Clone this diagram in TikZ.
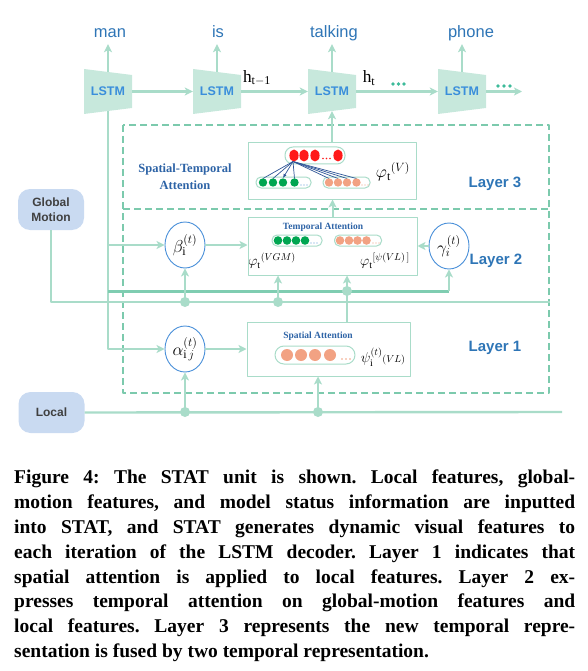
\documentclass[tikz,border=0pt]{standalone}
\usepackage{fontspec}
\setmainfont{Liberation Serif}
\setsansfont{Liberation Sans}
\usetikzlibrary{arrows.meta,shapes.geometric,positioning}
\definecolor{flowc}{HTML}{A9DCC9}
\definecolor{flowd}{HTML}{7FCDB1}
\definecolor{dashc}{HTML}{7CCAAD}
\definecolor{lstmc}{HTML}{C7E8DC}
\definecolor{wordc}{HTML}{2E75B6}
\definecolor{lstmtxt}{HTML}{3A8EDB}
\definecolor{titlec}{HTML}{2D63A6}
\definecolor{inc}{HTML}{C9DAF1}
\definecolor{ringc}{HTML}{4A90D9}
\definecolor{redc}{HTML}{FF1A1A}
\definecolor{greenc}{HTML}{00A651}
\definecolor{salmc}{HTML}{F2A283}
\definecolor{linkc}{HTML}{2F5597}
\definecolor{ellc}{HTML}{3DBB9A}
\definecolor{bluedots}{HTML}{5B9BD5}
\begin{document}
\begin{tikzpicture}[x=1pt,y=-1pt,line join=round,>={Stealth[length=8pt,width=8pt,inset=2pt]},
flow/.style={draw=flowc,line width=2pt},
bus/.style={draw=flowd,line width=3pt},
lstmbox/.style={minimum width=48pt,minimum height=39pt,inner sep=0pt,text=lstmtxt,font=\sffamily\bfseries\fontsize{12.5}{14}\selectfont},
word/.style={anchor=base,inner sep=2pt,text depth=4pt,text=wordc,font=\sffamily\fontsize{16.5}{18}\selectfont},
layertxt/.style={text=wordc,font=\sffamily\bfseries\fontsize{15}{18}\selectfont},
inbox/.style={fill=inc,rounded corners=12pt,minimum width=66pt,minimum height=41pt,align=center,text=black!75,font=\sffamily\bfseries\fontsize{12}{15}\selectfont},
attbox/.style={draw=flowc,line width=1pt,fill=white,inner sep=0pt},
pill/.style={draw=flowc,line width=1pt,fill=white,rounded corners=5pt,inner sep=0pt},
coef/.style={ellipse,draw=ringc,line width=0.9pt,fill=white,minimum width=40pt,minimum height=46pt,inner sep=0pt,font=\fontsize{17.28}{19}\selectfont},
boxtitle/.style={text=titlec,font=\bfseries\fontsize{9.5}{11}\selectfont},
lbl/.style={inner sep=1pt,font=\fontsize{14.4}{16}\selectfont}]
\useasboundingbox (0,0) rectangle (588,671);
\def\dotr{5pt}
% layers
\draw[dashc,line width=1.8pt,dash pattern=on 7pt off 4pt] (123,125) rectangle (549,393) (123,209)--(549,209);
% decoder
\foreach \n/\x/\w/\wx in {1/108/man/110,2/217/is/218,3/332/talking/334,4/462/phone/471}{
\fill[lstmc] (\x-24,69)--(\x+24,75)--(\x+24,108)--(\x-24,114)--cycle;
\node[lstmbox] (lstm\n) at (\x,91.5) {LSTM};
\node[word] (w\n) at (\wx,38) {\w};
\draw[flow,->] (lstm\n.north)--(lstm\n.north |- w\n.south);
}
\coordinate (tail) at (522,91.5);
\draw[flow,line width=2.4pt,->] (lstm1.east)--(lstm2.west);
\draw[flow,line width=2.4pt,->] (lstm2.east)--(lstm3.west);
\draw[flow,line width=2.4pt,->] (lstm3.east)--(lstm4.west);
\draw[flow,line width=2.4pt,->] (lstm4.east)--(tail);
\node[lbl,font=\fontsize{17.28}{19}\selectfont] (hprev) at (257,78) {$\mathrm{h}_{\mathrm{t-1}}$};
\node[lbl,font=\fontsize{17.28}{19}\selectfont] (hcur) at (369,78) {$\mathrm{h}_{\mathrm{t}}$};
\foreach \x in {393,398.5,404} \fill[ellc] (\x,84) circle (1.8pt);
\foreach \x in {498,504,510} \fill[ellc] (\x,86) circle (1.8pt);
% inputs
\node[inbox] (gm) at (51,209.5) {Global\\Motion};
\node[inbox] (local) at (51.5,412.5) {Local};
% attention weights
\node[coef] (beta) at (185,245) {$\beta^{(t)}_{\mathrm{i}}$};
\node[coef] (alpha) at (185,349) {$\alpha^{(t)}_{\mathrm{i}\,j}$};
\node[coef] (gamma) at (449,246) {$\gamma^{(t)}_{i}$};
% attention boxes
\node[attbox,minimum width=168pt,minimum height=56pt] (st) at (332,171) {};
\node[attbox,minimum width=169pt,minimum height=58pt] (temporal) at (332.5,246) {};
\node[attbox,minimum width=163pt,minimum height=54pt] (spatial) at (328.5,349) {};
\node[boxtitle,align=center,font=\bfseries\fontsize{12.5}{17}\selectfont] (sttitle) at (185,176.5) {Spatial-Temporal\\Attention};
\node[boxtitle] (ttitle) at (323,227) {Temporal Attention};
\node[boxtitle] (stitle) at (318,336) {Spatial Attention};
\node[layertxt] (lay3) at (495,184) {Layer 3};
\node[layertxt] (lay2) at (496,261) {Layer 2};
\node[layertxt] (lay1) at (495,348) {Layer 1};
% layer 3 content
\node[pill,minimum width=60pt,minimum height=17pt,rounded corners=8pt] (rpill) at (315,155.5) {};
\node[pill,minimum width=55pt,minimum height=11pt] (gpill3) at (283.5,182.5) {};
\node[pill,minimum width=47pt,minimum height=11pt] (spill3) at (346.5,182.5) {};
\coordinate (hub) at (293,161.5);
\foreach \x in {263,273,294.5,329,338,347,356.5} \draw[linkc,line width=0.7pt] (hub)--(\x,178.5);
\draw[linkc,line width=0.7pt,-{Latex[length=4pt,width=3.5pt]}] (hub)--(283,178);
\foreach \x in {294,304,315,338} \fill[redc] (\x,155.5) ellipse (4.6pt and 6pt);
\foreach \x in {323,326.5,330} \fill[redc] (\x,158.5) circle (0.9pt);
\foreach \x in {263,273,283,294.5} \fill[greenc] (\x,182.5) circle (4.2pt);
\foreach \x in {301,304,307} \fill[bluedots] (\x,185) circle (0.7pt);
\foreach \x in {329,338,347,356.5} \fill[salmc] (\x,182.5) circle (4.2pt);
\foreach \x in {362,365,368} \fill[salmc] (\x,185) circle (0.7pt);
\node[lbl,font=\fontsize{17.28}{19}\selectfont] (phiv) at (393,172) {$\varphi_{\mathrm{t}}{}^{(V)}$};
% layer 2 content
\node[pill,minimum width=50pt,minimum height=11pt] (gpill2) at (297,240.5) {};
\node[pill,minimum width=47pt,minimum height=11pt] (spill2) at (358,240.5) {};
\foreach \x in {278,287,296,305} \fill[greenc] (\x,240.5) circle (4.3pt);
\foreach \x in {311,314,317} \fill[bluedots] (\x,243) circle (0.7pt);
\foreach \x in {340,349,357.5,366.5} \fill[salmc] (\x,240.5) circle (4.3pt);
\foreach \x in {373,376,379} \fill[salmc] (\x,243) circle (0.7pt);
\node[lbl] (phig) at (272,261) {$\varphi_{\mathrm{t}}{}^{(VGM)}$};
\node[lbl] (phil) at (385,261) {$\varphi_{\mathrm{t}}{}^{[\psi(VL)\,]}$};
% layer 1 content
\node[pill,minimum width=80pt,minimum height=18pt,rounded corners=9pt] (spill1) at (315,355) {};
\foreach \x in {287,301,315,330} \fill[salmc] (\x,355) circle (6pt);
\foreach \x in {342,346,350} \fill[salmc] (\x,359) circle (0.9pt);
\node[lbl] (psil) at (383,357) {$\psi^{(t)}_{\mathrm{i}}{\scriptstyle(VL)}$};
% state h_{t-1}
\coordinate (hbus) at (108,291);
\draw[flow,line width=1.6pt,->] (lstm1.south)--(lstm1.south |- alpha)--(alpha.west);
\draw[flow,line width=1.6pt,->] (lstm1.south |- beta)--(beta.west);
\draw[bus] (hbus)--(hbus -| gamma.south);
\draw[flow,->] (hbus -| gamma.south)--(gamma.south);
% global motion features
\coordinate (gmend) at (550,302);
\coordinate (gdot1) at (185,302); \coordinate (gdot2) at (278,302);
\draw[flow,line width=1.8pt] (gm.south) |- (gmend);
\draw[flow,->] (gdot1)--(beta.south);
\draw[flow,->] (gdot2)--(gdot2 |- temporal.south);
% local features
\coordinate (lend) at (562,412);
\coordinate (ldot1) at (185,412); \coordinate (ldot2) at (318,412);
\draw[flow,line width=2.4pt] (local.east)--(lend);
\draw[flow,->] (ldot1)--(alpha.south);
\draw[flow,->] (ldot2)--(ldot2 |- spatial.south);
\coordinate (sdot) at (347,291);
\draw[flow,->] (sdot |- spatial.north)--(sdot |- temporal.south);
\fill[flowc] (gdot1) circle (\dotr) (gdot2) circle (\dotr) (sdot) circle (\dotr) (ldot1) circle (\dotr) (ldot2) circle (\dotr);
% into the boxes
\draw[flow,->] (beta.east)--(beta.east -| temporal.west);
\draw[flow,->] (gamma.west)--(gamma.west -| temporal.east);
\draw[flow,->] (alpha.east)--(alpha.east -| spatial.west);
\draw[flow,->] (temporal.north)--(temporal.north |- st.south);
\draw[flow,->] (st.north)--(st.north |- lstm3.south);
% caption
\node[anchor=north west,inner sep=0pt,text width=561pt,align=justify,font=\bfseries\fontsize{19.5}{24.8}\selectfont] (caption) at (14,470)
{\tolerance=10000\hyphenpenalty=10000\frenchspacing
Figure 4: The STAT unit is shown. Local features, global-\linebreak
motion features, and model status information are inputted\linebreak
into STAT, and STAT generates dynamic visual features to\linebreak
each iteration of the LSTM decoder. Layer 1 indicates that\linebreak
spatial attention is applied to local features. Layer 2 ex-\linebreak
presses temporal attention on global-motion features and\linebreak
local features. Layer 3 represents the new temporal repre-\linebreak
sentation is fused by two temporal representation.};
\end{tikzpicture}
\end{document}
